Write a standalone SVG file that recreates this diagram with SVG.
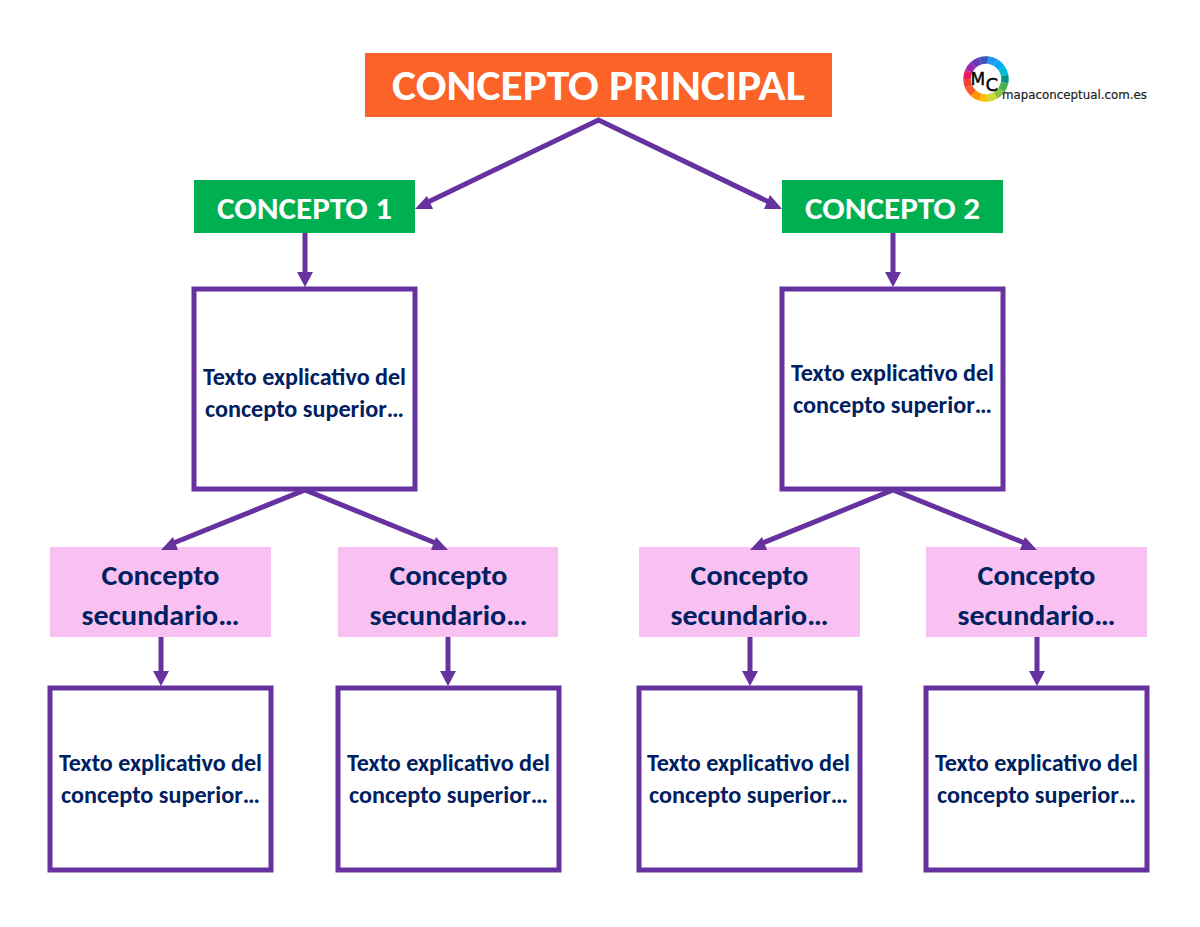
<svg xmlns="http://www.w3.org/2000/svg" width="1200" height="927" viewBox="0 0 1200 927">
<style>
text{font-family:Carlito,Lato,"Liberation Sans",sans-serif;font-weight:700;text-anchor:middle}
.h1{font-size:42px;fill:#fff}
.h2{font-size:31px;fill:#fff}
.sec{font-size:29px;fill:#002060}
.exp{font-size:23.5px;fill:#002060}
.box{fill:#fff;stroke:#66329F;stroke-width:5}
.pink{fill:#F9C0F2}
.green{fill:#00B050}
.conn line,.conn polyline{stroke:#66329F;stroke-width:5;fill:none;stroke-miterlimit:10}
.conn .v{marker-end:url(#arrow)}
.conn polygon{fill:#66329F}
.seg{fill:none;stroke-width:7.5;stroke-dasharray:1 14}
.logo{font-family:"DejaVu Sans",sans-serif;font-weight:400;text-anchor:start}
</style>
<defs>
<marker id="arrow" markerUnits="userSpaceOnUse" markerWidth="16" markerHeight="16" refX="5" refY="8" orient="auto"><path d="M0 0L15 8L0 16Z" fill="#66329F"/></marker>
</defs>
<rect width="1200" height="927" fill="#fff"/>
<g id="principal"><rect x="365" y="53" width="467" height="64" fill="#FB6328"/><text class="h1" x="598.5" y="100" textLength="413" lengthAdjust="spacingAndGlyphs">CONCEPTO PRINCIPAL</text></g>
<g id="concepto1"><rect class="green" x="194" y="180" width="221" height="53"/><text class="h2" x="304.5" y="219" textLength="175" lengthAdjust="spacingAndGlyphs">CONCEPTO 1</text></g>
<g id="concepto2"><rect class="green" x="782" y="180" width="221" height="53"/><text class="h2" x="892.5" y="219" textLength="175" lengthAdjust="spacingAndGlyphs">CONCEPTO 2</text></g>
<g id="texto1"><rect class="box" x="194" y="289" width="221" height="200"/><text class="exp" x="304.5" y="385" textLength="203" lengthAdjust="spacingAndGlyphs">Texto explicativo del</text><text class="exp" x="304.5" y="417" textLength="199" lengthAdjust="spacingAndGlyphs">concepto superior…</text></g>
<g id="texto2"><rect class="box" x="782" y="289" width="221" height="200"/><text class="exp" x="892.5" y="381" textLength="203" lengthAdjust="spacingAndGlyphs">Texto explicativo del</text><text class="exp" x="892.5" y="413" textLength="199" lengthAdjust="spacingAndGlyphs">concepto superior…</text></g>
<g id="sec1"><rect class="pink" x="50" y="547" width="221" height="90"/><text class="sec" x="160.5" y="585" textLength="118" lengthAdjust="spacingAndGlyphs">Concepto</text><text class="sec" x="160.5" y="625" textLength="158" lengthAdjust="spacingAndGlyphs">secundario…</text></g>
<g id="sec2"><rect class="pink" x="338" y="547" width="220" height="90"/><text class="sec" x="448.5" y="585" textLength="118" lengthAdjust="spacingAndGlyphs">Concepto</text><text class="sec" x="448.5" y="625" textLength="158" lengthAdjust="spacingAndGlyphs">secundario…</text></g>
<g id="sec3"><rect class="pink" x="639" y="547" width="221" height="90"/><text class="sec" x="749.5" y="585" textLength="118" lengthAdjust="spacingAndGlyphs">Concepto</text><text class="sec" x="749.5" y="625" textLength="158" lengthAdjust="spacingAndGlyphs">secundario…</text></g>
<g id="sec4"><rect class="pink" x="926" y="547" width="221" height="90"/><text class="sec" x="1036.5" y="585" textLength="118" lengthAdjust="spacingAndGlyphs">Concepto</text><text class="sec" x="1036.5" y="625" textLength="158" lengthAdjust="spacingAndGlyphs">secundario…</text></g>
<g id="texto3"><rect class="box" x="50" y="688" width="221" height="182"/><text class="exp" x="160.5" y="771" textLength="203" lengthAdjust="spacingAndGlyphs">Texto explicativo del</text><text class="exp" x="160.5" y="803" textLength="199" lengthAdjust="spacingAndGlyphs">concepto superior…</text></g>
<g id="texto4"><rect class="box" x="338" y="688" width="221" height="182"/><text class="exp" x="448.5" y="771" textLength="203" lengthAdjust="spacingAndGlyphs">Texto explicativo del</text><text class="exp" x="448.5" y="803" textLength="199" lengthAdjust="spacingAndGlyphs">concepto superior…</text></g>
<g id="texto5"><rect class="box" x="639" y="688" width="221" height="182"/><text class="exp" x="748.5" y="771" textLength="203" lengthAdjust="spacingAndGlyphs">Texto explicativo del</text><text class="exp" x="748.5" y="803" textLength="199" lengthAdjust="spacingAndGlyphs">concepto superior…</text></g>
<g id="texto6"><rect class="box" x="926" y="688" width="221" height="182"/><text class="exp" x="1036.5" y="771" textLength="203" lengthAdjust="spacingAndGlyphs">Texto explicativo del</text><text class="exp" x="1036.5" y="803" textLength="199" lengthAdjust="spacingAndGlyphs">concepto superior…</text></g>
<g id="connectors" class="conn">
<polyline points="426,203 598.5,120 771,203"/>
<polygon points="415,209 427,196 433,209"/>
<polygon points="782,209 770,195 764,209"/>
<line class="v" x1="305" y1="233" x2="305" y2="277"/>
<line class="v" x1="893" y1="233" x2="893" y2="277"/>
<polyline points="171,544 305,490 438,544"/>
<polyline points="760,544 893,490 1027,544"/>
<polygon points="161,550 173,537 178,550"/>
<polygon points="448,550 436,537 431,550"/>
<polygon points="750,550 762,537 767,550"/>
<polygon points="1037,550 1025,537 1020,550"/>
<line class="v" x1="161" y1="637" x2="161" y2="676"/>
<line class="v" x1="448" y1="637" x2="448" y2="676"/>
<line class="v" x1="750" y1="637" x2="750" y2="676"/>
<line class="v" x1="1037" y1="637" x2="1037" y2="676"/>
</g>
<g id="logo">
<circle cx="986" cy="79" r="19" fill="#fff"/>
<g>
<circle class="seg" cx="986" cy="79" r="19" pathLength="15" stroke="#00968F" stroke-dashoffset="0.5"/>
<circle class="seg" cx="986" cy="79" r="19" pathLength="15" stroke="#4CAF50" stroke-dashoffset="-0.5"/>
<circle class="seg" cx="986" cy="79" r="19" pathLength="15" stroke="#8BC34A" stroke-dashoffset="-1.5"/>
<circle class="seg" cx="986" cy="79" r="19" pathLength="15" stroke="#CDDC39" stroke-dashoffset="-2.5"/>
<circle class="seg" cx="986" cy="79" r="19" pathLength="15" stroke="#FFC107" stroke-dashoffset="-3.5"/>
<circle class="seg" cx="986" cy="79" r="19" pathLength="15" stroke="#FF9800" stroke-dashoffset="-4.5"/>
<circle class="seg" cx="986" cy="79" r="19" pathLength="15" stroke="#FF5722" stroke-dashoffset="-5.5"/>
<circle class="seg" cx="986" cy="79" r="19" pathLength="15" stroke="#F44336" stroke-dashoffset="-6.5"/>
<circle class="seg" cx="986" cy="79" r="19" pathLength="15" stroke="#E91E63" stroke-dashoffset="-7.5"/>
<circle class="seg" cx="986" cy="79" r="19" pathLength="15" stroke="#9C27B0" stroke-dashoffset="-8.5"/>
<circle class="seg" cx="986" cy="79" r="19" pathLength="15" stroke="#673AB7" stroke-dashoffset="-9.5"/>
<circle class="seg" cx="986" cy="79" r="19" pathLength="15" stroke="#3F51B5" stroke-dashoffset="-10.5"/>
<circle class="seg" cx="986" cy="79" r="19" pathLength="15" stroke="#2196F3" stroke-dashoffset="-11.5"/>
<circle class="seg" cx="986" cy="79" r="19" pathLength="15" stroke="#03A9F4" stroke-dashoffset="-12.5"/>
<circle class="seg" cx="986" cy="79" r="19" pathLength="15" stroke="#00BCD4" stroke-dashoffset="-13.5"/>
</g>
<text class="logo" x="970.5" y="85" font-size="17" fill="#000" stroke="#000" stroke-width="0.4">M</text>
<text class="logo" x="985.5" y="91" font-size="18" fill="#000" stroke="#000" stroke-width="0.4">C</text>
<text class="logo" x="1002" y="99" font-size="12.5" fill="#222" stroke="#222" stroke-width="0.2" textLength="145" lengthAdjust="spacingAndGlyphs">mapaconceptual.com.es</text>
</g>
</svg>
